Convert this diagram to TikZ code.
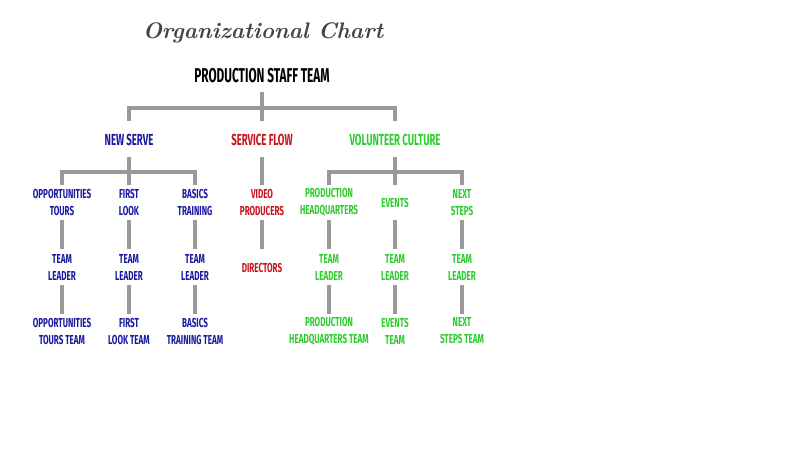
\documentclass[tikz,border=0pt]{standalone}
\usepackage{fontspec}
\newfontfamily\condA[FakeStretch=0.59]{Fira Sans}
\newfontfamily\condM[FakeStretch=0.60]{Fira Sans}
\newfontfamily\condB[FakeStretch=0.62]{Fira Sans}
\definecolor{linegray}{HTML}{999999}
\definecolor{tblue}{HTML}{1A1AA0}
\definecolor{tred}{HTML}{C8141E}
\definecolor{tgreen}{HTML}{2ECC2E}
\definecolor{ttitle}{HTML}{444444}
\begin{document}
\begin{tikzpicture}[x=1pt,y=-1pt,
  conn/.style={draw=linegray,line width=4pt,line join=miter},
  toplabel/.style={font=\condA\bfseries\fontsize{20}{20}\selectfont,inner sep=0pt,text=black},
  midlabel/.style={font=\condM\bfseries\fontsize{16}{16}\selectfont,inner sep=0pt},
  smalllabel/.style={font=\condB\bfseries\fontsize{13}{17}\selectfont,inner sep=0pt,align=center}
]
\useasboundingbox (0,0) rectangle (800,450);
\fill[white] (0,0) rectangle (800,450);
% title
\node[font=\bfseries\itshape\fontsize{22.5}{22.5}\selectfont,text=ttitle] (title) at (263,33) {Organizational Chart};
% level 1
\node[toplabel] (root) at (262,76) {PRODUCTION STAFF TEAM};
% level 2
\node[midlabel,text=tblue] (ns) at (129,140) {NEW SERVE};
\node[midlabel,text=tred] (sf) at (262,140) {SERVICE FLOW};
\node[midlabel,text=tgreen] (vc) at (395,140) {VOLUNTEER CULTURE};
% level 3
\node[smalllabel,text=tblue] (ot) at (62,202.5) {OPPORTUNITIES\\TOURS};
\node[smalllabel,text=tblue] (fl) at (129,202.5) {FIRST\\LOOK};
\node[smalllabel,text=tblue] (bt) at (195,202.5) {BASICS\\TRAINING};
\node[smalllabel,text=tred] (vp) at (262,202.5) {VIDEO\\PRODUCERS};
\node[smalllabel,text=tgreen] (ph) at (329,202.5) {PRODUCTION\\HEADQUARTERS};
\node[smalllabel,text=tgreen] (ev) at (395,203) {EVENTS};
\node[smalllabel,text=tgreen] (nx) at (462,202.5) {NEXT\\STEPS};
% level 4
\node[smalllabel,text=tblue] (otl) at (62,267.5) {TEAM\\LEADER};
\node[smalllabel,text=tblue] (fll) at (129,267.5) {TEAM\\LEADER};
\node[smalllabel,text=tblue] (btl) at (195,267.5) {TEAM\\LEADER};
\node[smalllabel,text=tred] (dir) at (262,268) {DIRECTORS};
\node[smalllabel,text=tgreen] (phl) at (329,267.5) {TEAM\\LEADER};
\node[smalllabel,text=tgreen] (evl) at (395,267.5) {TEAM\\LEADER};
\node[smalllabel,text=tgreen] (nxl) at (462,267.5) {TEAM\\LEADER};
% level 5
\node[smalllabel,text=tblue] (ott) at (62,331) {OPPORTUNITIES\\TOURS TEAM};
\node[smalllabel,text=tblue] (flt) at (129,331) {FIRST\\LOOK TEAM};
\node[smalllabel,text=tblue] (btt) at (195,331) {BASICS\\TRAINING TEAM};
\node[smalllabel,text=tgreen] (pht) at (329,331) {PRODUCTION\\HEADQUARTERS TEAM};
\node[smalllabel,text=tgreen] (evt) at (395,331) {EVENTS\\TEAM};
\node[smalllabel,text=tgreen] (nxt) at (462,331) {NEXT\\STEPS TEAM};
% level y coordinates
\coordinate (t1) at (0,92);
\coordinate (b1) at (0,108);
\coordinate (e1) at (0,121);
\coordinate (s2) at (0,157);
\coordinate (b2) at (0,172);
\coordinate (e2) at (0,185);
\coordinate (s3) at (0,220);
\coordinate (e3) at (0,249);
\coordinate (s4) at (0,285);
\coordinate (e4) at (0,314);
% connectors level 1 -> 2
\draw[conn] (root |- t1) -- (sf |- e1);
\draw[conn] (ns |- e1) -- (ns |- b1) -- (vc |- b1) -- (vc |- e1);
% level 2 -> 3
\draw[conn] (ns |- s2) -- (fl |- e2);
\draw[conn] (ot |- e2) -- (ot |- b2) -- (bt |- b2) -- (bt |- e2);
\draw[conn] (sf |- s2) -- (vp |- e2);
\draw[conn] (vc |- s2) -- (ev |- e2);
\draw[conn] (ph |- e2) -- (ph |- b2) -- (nx |- b2) -- (nx |- e2);
% level 3 -> 4
\draw[conn] (ot |- s3) -- (otl |- e3);
\draw[conn] (fl |- s3) -- (fll |- e3);
\draw[conn] (bt |- s3) -- (btl |- e3);
\draw[conn] (vp |- s3) -- (dir |- e3);
\draw[conn] (ph |- s3) -- (phl |- e3);
\draw[conn] (ev |- s3) -- (evl |- e3);
\draw[conn] (nx |- s3) -- (nxl |- e3);
% level 4 -> 5
\draw[conn] (otl |- s4) -- (ott |- e4);
\draw[conn] (fll |- s4) -- (flt |- e4);
\draw[conn] (btl |- s4) -- (btt |- e4);
\draw[conn] (phl |- s4) -- (pht |- e4);
\draw[conn] (evl |- s4) -- (evt |- e4);
\draw[conn] (nxl |- s4) -- (nxt |- e4);
\end{tikzpicture}
\end{document}
